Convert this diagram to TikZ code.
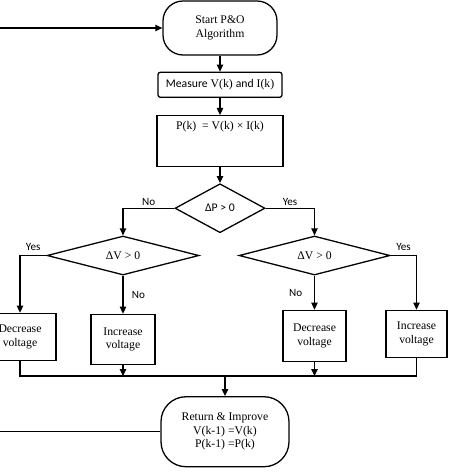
\documentclass[tikz,border=0pt]{standalone}
\usepackage{fontspec}
\setmainfont{Liberation Serif}
\setsansfont{Carlito}
\usetikzlibrary{positioning,arrows.meta,shapes.geometric}

\begin{document}
\begin{tikzpicture}[node distance=0.5cm, >={Triangle[length=6pt,width=5.5pt]}, line width=1.1pt,
    every node/.style={font=\fontsize{10}{11.5}\selectfont},
    term/.style={draw, rounded corners=0.6cm, align=center, inner sep=2pt},
    proc/.style={draw, align=center, inner sep=2pt},
    decide/.style={draw, diamond, shape aspect=3, inner sep=0pt},
    lbl/.style={font=\sffamily\fontsize{9.5}{11}\selectfont, inner sep=2pt}]
    \clip (0,0) rectangle (14.22,14.22);
    \node[term, minimum width=3.42cm, minimum height=1.62cm] (start) at (6.6,13.38) {Start P\&O\\Algorithm};
    \node[proc, rounded corners=2pt, minimum width=3.72cm, minimum height=0.75cm, below=0.48cm of start] (meas) {{\sffamily Measure} V(k) {\sffamily and} I(k)};
    \node[proc, minimum width=3.78cm, text height=0.315cm, text depth=1.0cm, inner sep=3pt, below=0.51cm of meas] (pk) {P(k) \ = V(k) × I(k)};
    \node[decide, minimum width=2.7cm, minimum height=1.47cm, font=\sffamily\fontsize{10}{11}\selectfont, below=0.48cm of pk] (dp) {ΔP > 0};
    \node[decide, minimum width=4.56cm, minimum height=1.17cm, below=0.06cm of dp, xshift=-2.91cm] (dv1) {ΔV > 0};
    \node[decide, minimum width=4.53cm, minimum height=1.17cm, below=0.06cm of dp, xshift=2.835cm] (dv2) {ΔV > 0};
    \node[proc, minimum width=2.16cm, minimum height=1.41cm, below=1.11cm of dv1, xshift=-3.09cm] (dec1) {Decrease\\voltage};
    \node[proc, minimum width=1.92cm, minimum height=1.5cm, below=1.14cm of dv1] (inc1) {Increase\\voltage};
    \node[proc, minimum width=1.89cm, minimum height=1.53cm, below=1.02cm of dv2] (dec2) {Decrease\\voltage};
    \node[proc, minimum width=1.83cm, minimum height=1.41cm, below=1.02cm of dv2, xshift=3.06cm] (inc2) {Increase\\voltage};
    \node[term, rounded corners=0.75cm, minimum width=3.84cm, minimum height=2.1cm, below=6.87cm of pk, xshift=0.15cm] (ret) {Return \& Improve\\V(k-1) =V(k)\\P(k-1) =P(k)};
    \coordinate[above=0.6cm of ret] (jn);

    \draw[->] (start) -- (meas);
    \draw[->] (meas) -- (pk);
    \draw[->] (pk) -- (dp);
    \draw[->] (dp.west) -| node[lbl, pos=0.25, above] {No} (dv1.north);
    \draw[->] (dp.east) -| node[lbl, pos=0.25, above] {Yes} (dv2.north);
    \draw[->] (dv1.west) -| node[lbl, pos=0.25, above, yshift=2pt] {Yes} (dec1.north);
    \draw[->] (dv1.south) -- node[lbl, right=5pt] {No} (inc1.north);
    \draw[->] (dv2.south) -- node[lbl, left=8pt] {No} (dec2.north);
    \draw[->] (dv2.east) -| node[lbl, pos=0.25, above, yshift=2pt] {Yes} (inc2.north);
    \draw (dec1.south) |- (jn);
    \draw (inc2.south) |- (jn);
    \draw[->] (inc1.south) -- (inc1.south |- jn);
    \draw[->] (dec2.south) -- (dec2.south |- jn);
    \draw[->] (jn) -- (ret);
    \draw[->] (ret.west) -- ++(-5.4,0) |- (start.west);
\end{tikzpicture}
\end{document}
